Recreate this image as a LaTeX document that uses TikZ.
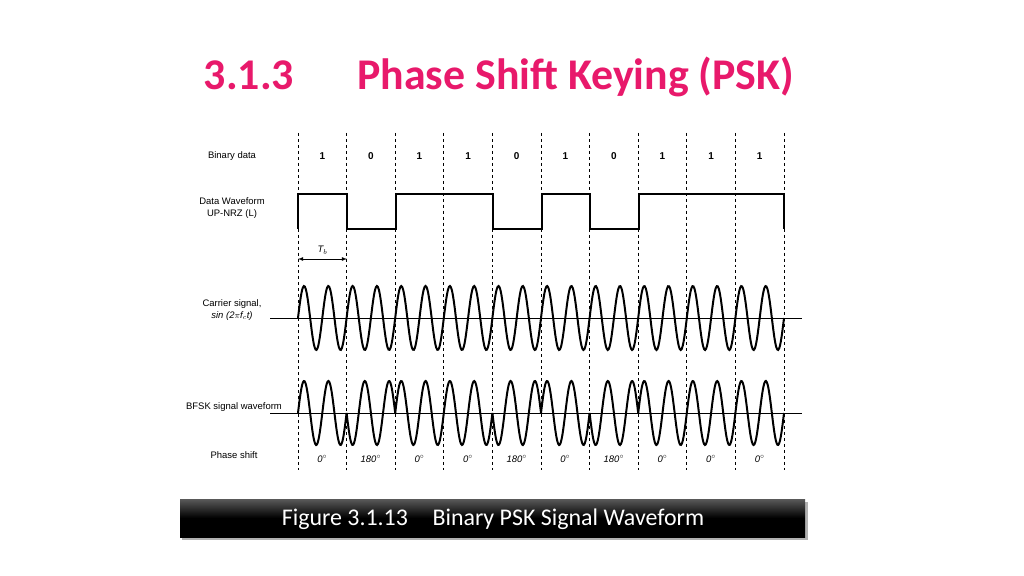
\documentclass[tikz,border=0pt]{standalone}
\usepackage{fontspec}
\setmainfont{Liberation Sans}
\newfontfamily\carlitofont{Carlito}
\definecolor{pinkt}{HTML}{E8196B}
\begin{document}
\begin{tikzpicture}[x=1bp,y=-1bp,
  lab/.style={font=\fontsize{9.5}{11.5}\selectfont,align=center,inner sep=0},
  bit/.style={font=\bfseries\fontsize{10}{11}\selectfont,inner sep=0},
  ph/.style={font=\itshape\fontsize{9.5}{11}\selectfont,inner sep=0},
  wave/.style={line width=2pt},
  grid/.style={dashed,line width=0.7pt}]
\useasboundingbox (0,0) rectangle (1024,576);
\fill[white] (0,0) rectangle (1024,576);
\node[font=\carlitofont\bfseries\fontsize{44}{50}\selectfont,text=pinkt] (title) at (499,77) {3.1.3\hspace{1.45em}Phase Shift Keying (PSK)};
% grid
\foreach \i in {0,...,10}{\draw[grid] ({298+48.6*\i},133) -- ({298+48.6*\i},470);}
% labels
\node[lab] (lbd) at (232,156) {Binary data};
\node[lab] (ldw) at (232,208) {Data Waveform\\UP-NRZ (L)};
\node[lab] (lcs) at (232,310) {Carrier signal,\\\textit{sin (2$\pi$f$_c$t)}};
\node[lab] (lbf) at (234,407) {BFSK signal waveform};
\node[lab] (lps) at (234,455) {Phase shift};
% bits
\foreach \b [count=\i from 0] in {1,0,1,1,0,1,0,1,1,1}{
  \node[bit] (b\i) at ({298+48.6*\i+24.3},156) {\b};
}
\foreach \p [count=\i from 0] in {0,180,0,0,180,0,180,0,0,0}{
  \node[ph] (p\i) at ({298+48.6*\i+24.3},459) {\p$^\circ$};
}
% data waveform
\draw[wave] (298,229) -- (298,194) -- (347,194) -- (347,229) -- (396,229) -- (396,194) -- (493,194) -- (493,229) -- (542,229) -- (542,194) -- (590,194) -- (590,229) -- (639,229) -- (639,194) -- (784,194) -- (784,229);
% Tb
\draw[<->,>=latex,line width=0.8pt] (298,259) -- (347,259) node[midway,above=4pt,font=\itshape\fontsize{9.5}{11}\selectfont,inner sep=0] (tb) {T$_b$};
% carrier
\draw[line width=0.8pt] (270,318) -- (802,318);
\draw[wave] plot[domain=0:486,samples=500,smooth] ({298+\x},{318-32*sin(\x/24.3*360)});
% bpsk
\draw[line width=0.8pt] (270,413) -- (802,413);
\foreach \s [count=\i from 0] in {1,-1,1,1,-1,1,-1,1,1,1}{
  \draw[wave] plot[domain={48.6*\i}:{48.6*(\i+1)},samples=60,smooth] ({298+\x},{413-32*\s*sin(\x/24.3*360)});
}
% banner
\fill[gray!60] (182,502) rectangle (808,540);
\shade[top color=gray!70!black,bottom color=black,middle color=black] (180,499) rectangle (805,537);
\node[font=\carlitofont\fontsize{24}{26}\selectfont,text=white] (cap) at (493,519) {Figure 3.1.13\hspace{0.8em} Binary PSK Signal Waveform};
\end{tikzpicture}
\end{document}
